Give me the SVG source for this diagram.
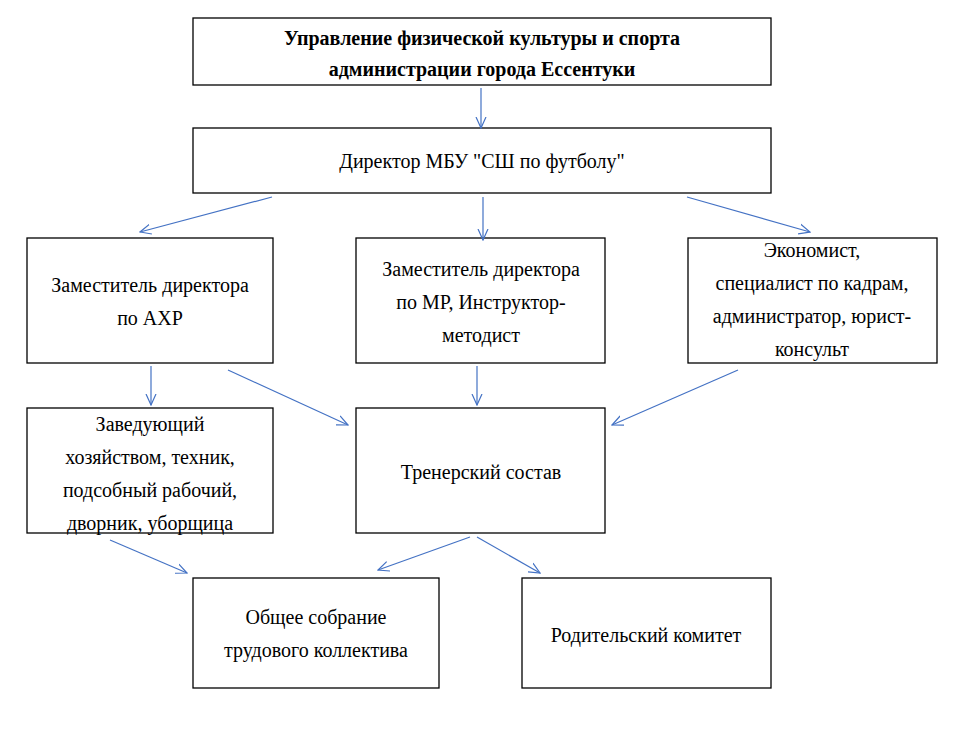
<svg xmlns="http://www.w3.org/2000/svg" width="974" height="747" viewBox="0 0 974 747">
<defs>
<style>
.b{fill:#fff;stroke:#000;stroke-width:1.3}
text{font-family:"Liberation Serif",serif;font-size:20px;text-anchor:middle;fill:#000}
.c line{stroke:#4472C4;stroke-width:1.2;marker-end:url(#a)}
</style>
<marker id="a" viewBox="0 0 12 12" refX="11" refY="6" markerWidth="12" markerHeight="12" markerUnits="userSpaceOnUse" orient="auto"><path d="M0,1 L11,6 L0,11" fill="none" stroke="#4472C4" stroke-width="1.2"/></marker>
</defs>
<rect width="974" height="747" fill="#fff"/>
<g id="n1"><rect class="b" x="193" y="18" width="578" height="67"/><text x="482" y="45" font-weight="bold">Управление физической культуры и спорта</text><text x="482" y="76" font-weight="bold">администрации города Ессентуки</text></g>
<g id="n2"><rect class="b" x="193" y="128" width="578" height="65"/><text x="482" y="168">Директор МБУ "СШ по футболу"</text></g>
<g id="n3"><rect class="b" x="27" y="238" width="246" height="125"/><text x="150" y="292">Заместитель директора</text><text x="150" y="325">по АХР</text></g>
<g id="n4"><rect class="b" x="356" y="238" width="249" height="125"/><text x="481" y="276">Заместитель директора</text><text x="481" y="309">по МР, Инструктор-</text><text x="481" y="342">методист</text></g>
<g id="n5"><rect class="b" x="688" y="238" width="249" height="125"/><text x="812" y="257">Экономист,</text><text x="812" y="290">специалист по кадрам,</text><text x="812" y="323">администратор,  юрист-</text><text x="812" y="356">консульт</text></g>
<g id="n6"><rect class="b" x="27" y="408" width="246" height="125"/><text x="150" y="431">Заведующий</text><text x="150" y="464">хозяйством, техник,</text><text x="150" y="497">подсобный рабочий,</text><text x="150" y="530">дворник, уборщица</text></g>
<g id="n7"><rect class="b" x="356" y="408" width="249" height="125"/><text x="481" y="479">Тренерский состав</text></g>
<g id="n8"><rect class="b" x="193" y="578" width="246" height="110"/><text x="316" y="624">Общее собрание</text><text x="316" y="657">трудового коллектива</text></g>
<g id="n9"><rect class="b" x="522" y="578" width="249" height="110"/><text x="646" y="642">Родительский комитет</text></g>
<g class="c" id="connectors">
<line x1="481" y1="88" x2="481" y2="128"/>
<line x1="272" y1="197" x2="140" y2="232"/>
<line x1="483" y1="197" x2="483" y2="240"/>
<line x1="687" y1="197" x2="810" y2="232"/>
<line x1="151" y1="366" x2="151" y2="405"/>
<line x1="228" y1="370" x2="348" y2="425"/>
<line x1="477" y1="366" x2="477" y2="405"/>
<line x1="738" y1="370" x2="612" y2="425"/>
<line x1="110" y1="540" x2="187" y2="573"/>
<line x1="470" y1="537" x2="378" y2="570"/>
<line x1="477" y1="537" x2="540" y2="573"/>
</g>
</svg>
